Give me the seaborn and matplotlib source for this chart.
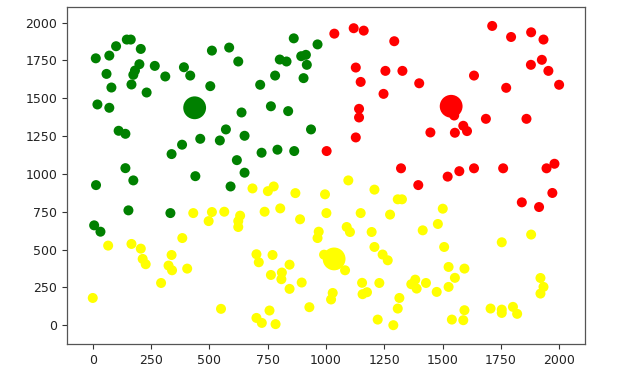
import pandas as pd
import matplotlib.pyplot as plt
import seaborn as sns

# ── Pontos de cada cluster ───────────────────────────────────────────────────
green_x = [13, 100, 71, 146, 163, 206, 59, 200, 181, 174, 266, 80, 166, 231, 311,
           391, 418, 20, 71, 111, 140, 383, 338, 461, 140, 862, 964, 511, 585, 624,
           802, 831, 894, 914, 918, 782, 904, 718, 504, 764, 838, 638, 571, 651, 545,
           936, 724, 792, 864, 618, 651, 14, 174, 440, 591, 153, 333, 6, 33]
green_y = [1764, 1844, 1782, 1888, 1888, 1826, 1661, 1725, 1683, 1655, 1714, 1571, 1591, 1538, 1644,
           1705, 1650, 1459, 1437, 1285, 1265, 1193, 1131, 1232, 1038, 1896, 1856, 1815, 1835, 1743,
           1756, 1743, 1778, 1787, 1721, 1650, 1633, 1589, 1580, 1447, 1415, 1406, 1294, 1252, 1221,
           1294, 1140, 1160, 1151, 1091, 1008, 926, 957, 985, 917, 759, 741, 660, 618]

red_x = [1036, 1119, 1162, 1293, 1128, 1255, 1328, 1149, 1400, 1247, 1142, 1142, 1448, 1553,
         1550, 1128, 1003, 1322, 1522, 1572, 1713, 1794, 1880, 1933, 1879, 1926, 1954, 2000,
         1635, 1773, 1686, 1860, 1589, 1605, 1635, 1760, 1946, 1980, 1396, 1971, 1840, 1914]
red_y = [1927, 1963, 1947, 1877, 1703, 1681, 1681, 1608, 1599, 1529, 1430, 1373, 1274, 1272,
         1386, 1241, 1151, 1037, 982, 1018, 1978, 1905, 1936, 1888, 1721, 1754, 1681, 1589,
         1650, 1569, 1364, 1364, 1318, 1283, 1037, 1037, 1037, 1067, 926, 874, 812, 781]

yellow_x = [431, 66, 166, 206, 214, 227, 384, 338, 325, 340, 405, 293, 0,
            685, 751, 776, 869, 996, 511, 497, 564, 632, 624, 624, 737, 804, 889, 1002,
            969, 964, 702, 712, 771, 844, 764, 811, 809, 844, 896, 550, 758, 702, 725,
            784, 929, 1022, 1029,
            1096, 1208, 1308, 1326, 1149, 1275, 1501, 1480, 1415, 1089, 1103, 1196, 1507,
            1208, 1243, 1265, 1082, 992, 1155, 1229, 1157, 1176, 1366, 1389, 1383, 1429,
            1475, 1526, 1553, 1526, 1315, 1308, 1222, 1289, 1540, 1594, 1880, 1754, 1920,
            1933, 1920, 1706, 1754, 1754, 1802, 1820, 1594, 1589]
yellow_y = [741, 526, 537, 506, 438, 403, 576, 464, 394, 363, 374, 279, 180,
            904, 886, 917, 873, 865, 748, 688, 750, 724, 688, 649, 750, 772, 700, 741,
            618, 576, 469, 416, 464, 400, 332, 348, 304, 240, 282, 108, 97, 48, 15,
            7, 119, 170, 213,
            957, 896, 832, 832, 741, 731, 770, 669, 627, 649, 616, 616, 517,
            517, 467, 429, 363, 466, 280, 279, 205, 218, 271, 242, 301, 279,
            220, 253, 313, 385, 180, 110, 37, 0, 37, 374, 599, 548, 312,
            253, 209, 110, 103, 81, 121, 75, 99, 33]

# centróides
center_x = [437, 1537, 1035]
center_y = [1437, 1447, 438]
center_label = ["green", "red", "yellow"]

# ── Monta tabela ─────────────────────────────────────────────────────────────
df = pd.concat([
    pd.DataFrame({"x": green_x, "y": green_y, "cluster": "green"}),
    pd.DataFrame({"x": red_x, "y": red_y, "cluster": "red"}),
    pd.DataFrame({"x": yellow_x, "y": yellow_y, "cluster": "yellow"}),
], ignore_index=True)
centros = pd.DataFrame({"x": center_x, "y": center_y, "cluster": center_label})

CORES = {"green": "green", "red": "red", "yellow": "yellow"}

sns.set_style("white")
plt.rcParams["font.family"] = ["DejaVu Sans"]

fig = plt.figure(figsize=(6.25, 3.7), dpi=100)
ax = fig.add_axes([0.107, 0.070, 0.829, 0.911])

sns.scatterplot(data=df, x="x", y="y", hue="cluster", palette=CORES,
                s=52, linewidth=0, legend=False, ax=ax)
sns.scatterplot(data=centros, x="x", y="y", hue="cluster", palette=CORES,
                s=270, linewidth=0, legend=False, ax=ax)

ax.set_xlim(-111, 2111)
ax.set_ylim(-125, 2103)
ax.set_xticks([0, 250, 500, 750, 1000, 1250, 1500, 1750, 2000])
ax.set_yticks([0, 250, 500, 750, 1000, 1250, 1500, 1750, 2000])
ax.set_xlabel("")
ax.set_ylabel("")
ax.tick_params(axis="both", direction="out", length=3.5, width=0.8,
               labelsize=9, color="#333333", labelcolor="#222222", left=True, bottom=True)
for sp in ax.spines.values():
    sp.set_color("#555555")
    sp.set_linewidth(0.9)

plt.savefig("out.png", dpi=100)
plt.close()
